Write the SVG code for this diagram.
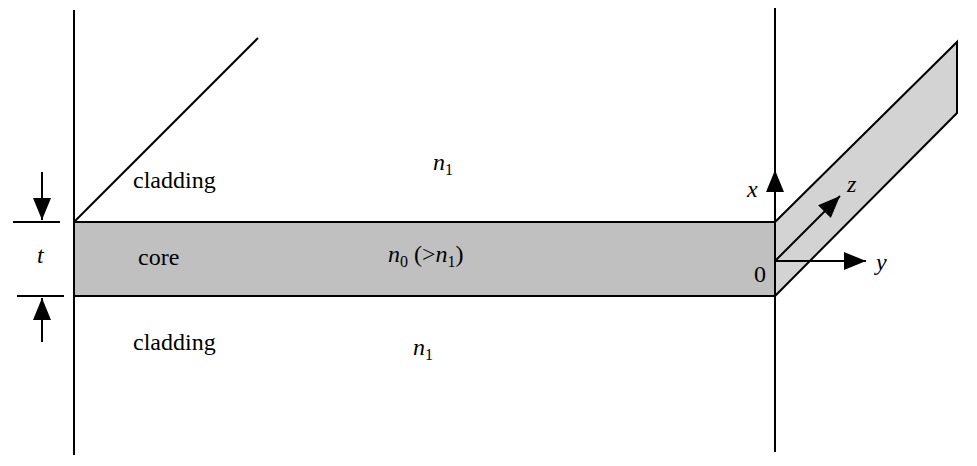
<svg xmlns="http://www.w3.org/2000/svg" width="977" height="466" viewBox="0 0 977 466">
<style>
.l{stroke:#000;stroke-width:2;fill:none}
.f1{fill:#c0c0c0}
.f2{fill:#d3d3d3}
text{font-family:"Liberation Serif","Times New Roman","DejaVu Serif",serif;font-size:24px;fill:#000}
.i{font-style:italic}
.s{font-size:16px}
</style>
<defs>
<marker id="b" viewBox="0 0 22 18" refX="22" refY="9" markerWidth="22" markerHeight="18" markerUnits="userSpaceOnUse" orient="auto"><path d="M0,0L22,9L0,18z"/></marker></defs>
<rect width="977" height="466" fill="#fff"/>
<g id="core"><rect x="74" y="222" width="701" height="74" class="l f1" style="fill:#c0c0c0"/></g>
<g id="slab"><path d="M775,222L957,42L957,113L775,296z" class="l f2" style="fill:#d3d3d3"/></g>
<g id="connectors">
<line class="l" x1="74" y1="10" x2="74" y2="455"/>
<line class="l" x1="775" y1="8" x2="775" y2="452"/>
<line class="l" x1="74" y1="222" x2="258" y2="38"/>
<line class="l" x1="13" y1="222" x2="60" y2="222"/>
<line class="l" x1="17" y1="296" x2="64" y2="296"/>
<line class="l" x1="42" y1="172" x2="42" y2="220" marker-end="url(#b)"/>
<line class="l" x1="42" y1="342" x2="42" y2="298" marker-end="url(#b)"/>
<line class="l" x1="775" y1="261" x2="775" y2="170" marker-end="url(#b)"/>
<line class="l" x1="775" y1="261" x2="866" y2="261" marker-end="url(#b)"/>
<line class="l" x1="775" y1="261" x2="840" y2="196" marker-end="url(#b)"/>
</g>
<g id="labels">
<text x="133" y="188">cladding</text>
<text x="433" y="170" class="i">n<tspan class="s" dy="5" font-style="normal">1</tspan></text>
<text x="138" y="265">core</text>
<text x="388" y="262"><tspan class="i">n</tspan><tspan class="s" dy="5">0</tspan><tspan dy="-5"> (&gt;</tspan><tspan class="i">n</tspan><tspan class="s" dy="5">1</tspan><tspan dy="-5">)</tspan></text>
<text x="133" y="350">cladding</text>
<text x="413" y="355" class="i">n<tspan class="s" dy="5" font-style="normal">1</tspan></text>
<text x="37" y="263" class="i">t</text>
<text x="747" y="197" class="i">x</text>
<text x="847" y="192" class="i">z</text>
<text x="876" y="270" class="i">y</text>
<text x="754" y="282">0</text>
</g>
</svg>
